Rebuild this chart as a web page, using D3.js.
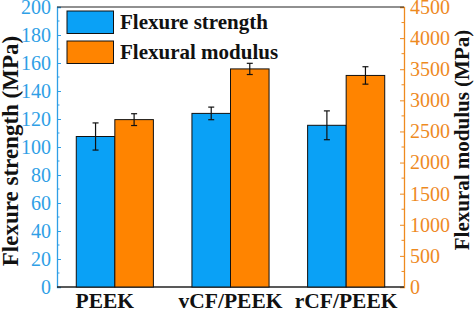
<!DOCTYPE html>
<html>
<head>
<meta charset="utf-8">
<script src="https://cdn.jsdelivr.net/npm/d3@7"></script>
<style>
  body { margin: 0; background: #fff; }
  svg text { font-family: "Liberation Serif", "Times New Roman", serif; }
</style>
</head>
<body>
<svg id="chart" width="474" height="309"></svg>
<script>
// DATA
var categories = ["PEEK", "vCF/PEEK", "rCF/PEEK"];
var strength = [107.5, 124, 115.5];      // MPa
var strengthErr = [9.7, 4.5, 10.3];
var modulus = [2690, 3505, 3400];        // MPa
var modulusErr = [95, 90, 140];
var leftTicks = [0, 20, 40, 60, 80, 100, 120, 140, 160, 180, 200];
var rightTicks = [0, 500, 1000, 1500, 2000, 2500, 3000, 3500, 4000, 4500];

var blue = "#0aa1f6", orange = "#ff8400";
var blueText = "#2f9fe6", orangeText = "#ee8a1f";

var margin = {top: 7, left: 57, right: 70, bottom: 22};
var W = 474, H = 309;
var svg = d3.select("#chart");
var g = svg.append("g");

var x = d3.scaleBand().domain(categories)
  .range([margin.left, W - margin.right])
  .paddingInner(1/3).paddingOuter(1/6);
var yL = d3.scaleLinear().domain([0, 200]).range([H - margin.bottom, margin.top]);
var yR = d3.scaleLinear().domain([0, 4500]).range([H - margin.bottom, margin.top]);
var half = x.bandwidth() / 2;

// minor ticks
var minorL = d3.range(10, 200, 20), minorR = d3.range(250, 4500, 500);

// left axis
var axL = g.append("g").attr("transform", "translate(" + margin.left + ",0)")
  .call(d3.axisLeft(yL).tickValues(leftTicks).tickSize(-4).tickPadding(6).tickFormat(d3.format("d")));
axL.select(".domain").attr("stroke", blueText).attr("stroke-width", 1.3);
axL.selectAll(".tick line").attr("stroke", blueText);
axL.selectAll("text").attr("fill", blueText).style("font-size", "20px").style("font-family", "Liberation Serif");
g.append("g").selectAll("line").data(minorL).join("line")
  .attr("x1", margin.left).attr("x2", margin.left + 2.5)
  .attr("y1", yL).attr("y2", yL).attr("stroke", blueText);

// right axis
var axR = g.append("g").attr("transform", "translate(" + (W - margin.right) + ",0)")
  .call(d3.axisRight(yR).tickValues(rightTicks).tickSize(-4).tickPadding(6).tickFormat(d3.format("d")));
axR.select(".domain").attr("stroke", orangeText).attr("stroke-width", 1.3);
axR.selectAll(".tick line").attr("stroke", orangeText);
axR.selectAll("text").attr("fill", orangeText).style("font-size", "20px").style("font-family", "Liberation Serif");
g.append("g").selectAll("line").data(minorR).join("line")
  .attr("x1", W - margin.right).attr("x2", W - margin.right - 2.5)
  .attr("y1", yR).attr("y2", yR).attr("stroke", orangeText);

// top and bottom lines
g.append("line").attr("x1", margin.left).attr("x2", W - margin.right)
  .attr("y1", margin.top).attr("y2", margin.top).attr("stroke", "#222").attr("stroke-width", 1.2);
g.append("line").attr("x1", margin.left).attr("x2", W - margin.right)
  .attr("y1", H - margin.bottom).attr("y2", H - margin.bottom).attr("stroke", "#222").attr("stroke-width", 1.3);

// bars
var bars = g.append("g");
bars.selectAll(".bs").data(categories).join("rect")
  .attr("x", function(d) { return x(d); })
  .attr("width", half)
  .attr("y", function(d, i) { return yL(strength[i]); })
  .attr("height", function(d, i) { return yL(0) - yL(strength[i]); })
  .attr("fill", blue).attr("stroke", "#111").attr("stroke-width", 1);
bars.selectAll(".bm").data(categories).join("rect")
  .attr("x", function(d) { return x(d) + half; })
  .attr("width", half)
  .attr("y", function(d, i) { return yR(modulus[i]); })
  .attr("height", function(d, i) { return yR(0) - yR(modulus[i]); })
  .attr("fill", orange).attr("stroke", "#111").attr("stroke-width", 1);

// error bars
function errBar(cx, yTop, yBot) {
  var e = g.append("g").attr("stroke", "#111").attr("stroke-width", 1.2);
  e.append("line").attr("x1", cx).attr("x2", cx).attr("y1", yTop).attr("y2", yBot);
  e.append("line").attr("x1", cx - 3).attr("x2", cx + 3).attr("y1", yTop).attr("y2", yTop);
  e.append("line").attr("x1", cx - 3).attr("x2", cx + 3).attr("y1", yBot).attr("y2", yBot);
}
categories.forEach(function(c, i) {
  errBar(x(c) + half / 2, yL(strength[i] + strengthErr[i]), yL(strength[i] - strengthErr[i]));
  errBar(x(c) + half * 1.5, yR(modulus[i] + modulusErr[i]), yR(modulus[i] - modulusErr[i]));
});

// category labels
g.append("g").selectAll("text").data(categories).join("text")
  .attr("x", function(d, i) { return x(d) + half + (i === 0 ? -10 : 0); })
  .attr("y", 308)
  .attr("text-anchor", "middle")
  .style("font-size", "21.5px").style("font-weight", "bold").attr("fill", "#111")
  .text(function(d) { return d; });

// axis titles
g.append("text")
  .attr("transform", "translate(18,151) rotate(-90)")
  .attr("text-anchor", "middle")
  .style("font-size", "23px").style("font-weight", "bold").attr("fill", "#111")
  .text("Flexure strength (MPa)");
g.append("text")
  .attr("transform", "translate(469,140) rotate(-90)")
  .attr("text-anchor", "middle")
  .style("font-size", "21px").style("font-weight", "bold").attr("fill", "#111")
  .text("Flexural modulus (MPa)");

// legend
var legend = [["Flexure strength", blue], ["Flexural modulus", orange]];
var lg = g.append("g").selectAll("g").data(legend).join("g")
  .attr("transform", function(d, i) { return "translate(67," + (11 + i * 30) + ")"; });
lg.append("rect").attr("width", 46.5).attr("height", 22.5)
  .attr("fill", function(d) { return d[1]; }).attr("stroke", "#111").attr("stroke-width", 1);
lg.append("text").attr("x", 53).attr("y", 18)
  .style("font-size", "21px").style("font-weight", "bold").attr("fill", "#111")
  .text(function(d) { return d[0]; });
</script>
</body>
</html>
